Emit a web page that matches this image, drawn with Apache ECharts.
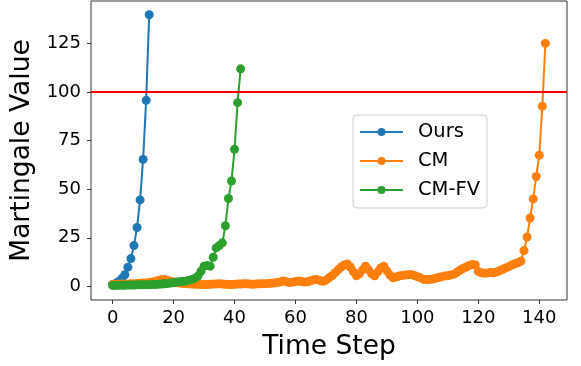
<!DOCTYPE html>
<html>
<head>
<meta charset="utf-8">
<script src="https://cdn.jsdelivr.net/npm/echarts@6/dist/echarts.min.js"></script>
<style>
  html, body { margin: 0; padding: 0; background: #fff; }
  #chart { width: 581px; height: 366px; }
</style>
</head>
<body>
<div id="chart"></div>
<script>
// values, one per time step starting at 0
const ours = [1.0, 1.5, 2.5, 4.0, 6.0, 9.9, 14.3, 21.0, 30.3, 44.5, 65.3, 95.7, 139.7]

const cm = [
  1.0, 1.0, 1.1, 1.2, 1.1, 1.2, 1.3, 1.4, 1.5, 1.6,
  1.7, 1.8, 2.0, 2.2, 2.6, 3.0, 3.4, 3.5, 3.0, 2.6,
  2.2, 1.9, 1.7, 1.5, 1.4, 1.3, 1.2, 1.1, 1.1, 1.0,
  1.0, 1.0, 1.1, 1.2, 1.2, 1.3, 1.2, 1.1, 1.0, 1.0,
  1.1, 1.2, 1.2, 1.3, 1.3, 1.2, 1.1, 1.2, 1.3, 1.4,
  1.4, 1.5, 1.6, 1.8, 2.0, 2.3, 2.8, 2.4, 2.0, 2.1,
  2.5, 2.8, 2.5, 2.2, 2.4, 2.9, 3.4, 3.6, 3.0, 2.6,
  3.2, 4.4, 5.5, 7.0, 8.5, 10.0, 11.0, 11.5, 10.0, 7.5,
  5.5, 6.5, 8.5, 10.4, 8.5, 6.5, 5.5, 7.5, 9.5, 10.4,
  8.0, 5.8, 4.4, 4.8, 5.3, 5.6, 5.8, 6.0, 6.1, 5.6,
  5.0, 4.4, 3.6, 3.5, 3.6, 3.8, 4.2, 4.6, 5.0, 5.3,
  5.5, 5.9, 6.3, 7.3, 8.3, 9.2, 10.0, 10.8, 11.3, 11.0,
  7.6, 7.0, 6.8, 6.9, 7.1, 7.0, 7.4, 8.0, 8.8, 9.5,
  10.2, 11.0, 11.6, 12.1, 13.0, 18.4, 25.4, 35.2, 45.0, 56.5,
  67.5, 92.6, 125.0
]

const cmFv = [
  0.5, 0.5, 0.6, 0.6, 0.6, 0.7, 0.7, 0.7, 0.8, 0.8,
  0.8, 0.9, 0.9, 1.0, 1.0, 1.1, 1.2, 1.3, 1.5, 1.7,
  1.9, 2.2, 2.4, 2.6, 2.7, 3.2, 3.6, 4.2, 5.3, 7.8,
  10.4, 10.8, 10.4, 15.0, 19.8, 21.0, 22.4, 31.2, 45.2, 54.2,
  70.5, 94.5, 111.9
]

const xTicks = [0, 20, 40, 60, 80, 100, 120, 140]
const yTicks = [0, 25, 50, 75, 100, 125]
const threshold = 100

const FONT = 'DejaVu Sans'

const toPoints = (arr) => arr.map((v, i) => [i, v])

const lineSeries = (name, color, data) => ({
  name: name,
  type: 'line',
  data: toPoints(data),
  symbol: 'circle',
  symbolSize: 9,
  showSymbol: true,
  showAllSymbol: true,
  lineStyle: { color: color, width: 2 },
  itemStyle: { color: color },
  emphasis: { disabled: true }
})

const chart = echarts.init(document.getElementById('chart'))

const option = {
  animation: false,
  textStyle: { fontFamily: FONT },
  grid: {
    left: 91,
    top: 1,
    width: 476,
    height: 299,
    show: true,
    borderColor: '#333',
    borderWidth: 1,
    backgroundColor: 'transparent'
  },
  legend: {
    orient: 'vertical',
    left: 353,
    top: 115,
    padding: [7, 7, 8, 6],
    itemWidth: 43,
    itemHeight: 10,
    itemGap: 9,
    backgroundColor: 'rgba(255,255,255,0.8)',
    borderColor: '#cccccc',
    borderWidth: 1,
    borderRadius: 4,
    textStyle: {
      fontFamily: FONT,
      fontSize: 19.5,
      color: '#000',
      lineHeight: 20,
      padding: [0, 0, 0, 10]
    },
    data: ['Ours', 'CM', 'CM-FV']
  },
  xAxis: {
    type: 'value',
    min: -7.1,
    max: 149.1,
    name: 'Time Step',
    nameLocation: 'middle',
    nameGap: 34,
    nameTextStyle: { fontFamily: FONT, fontSize: 26.5, color: '#000' },
    axisLine: { show: false, onZero: false },
    axisTick: {
      show: true,
      length: 4,
      lineStyle: { color: '#333', width: 1 },
      customValues: xTicks
    },
    axisLabel: {
      fontFamily: FONT,
      fontSize: 18,
      color: '#000',
      margin: 9,
      customValues: xTicks
    },
    splitLine: { show: false }
  },
  yAxis: {
    type: 'value',
    min: -7,
    max: 146.8,
    name: 'Martingale Value',
    nameLocation: 'middle',
    nameGap: 52,
    nameTextStyle: { fontFamily: FONT, fontSize: 26.5, color: '#000' },
    axisLine: { show: false, onZero: false },
    axisTick: {
      show: true,
      length: 4,
      lineStyle: { color: '#333', width: 1 },
      customValues: yTicks
    },
    axisLabel: {
      fontFamily: FONT,
      fontSize: 18,
      color: '#000',
      margin: 10,
      customValues: yTicks
    },
    splitLine: { show: false }
  },
  series: [
    lineSeries('Ours', '#1f77b4', ours),
    lineSeries('CM', '#ff7f0e', cm),
    lineSeries('CM-FV', '#2ca02c', cmFv),
    {
      name: 'threshold',
      type: 'line',
      data: [],
      markLine: {
        silent: true,
        symbol: 'none',
        label: { show: false },
        lineStyle: { color: '#ff0000', width: 2, type: 'solid' },
        data: [{ yAxis: threshold }]
      }
    }
  ]
}

chart.setOption(option)
</script>
</body>
</html>
